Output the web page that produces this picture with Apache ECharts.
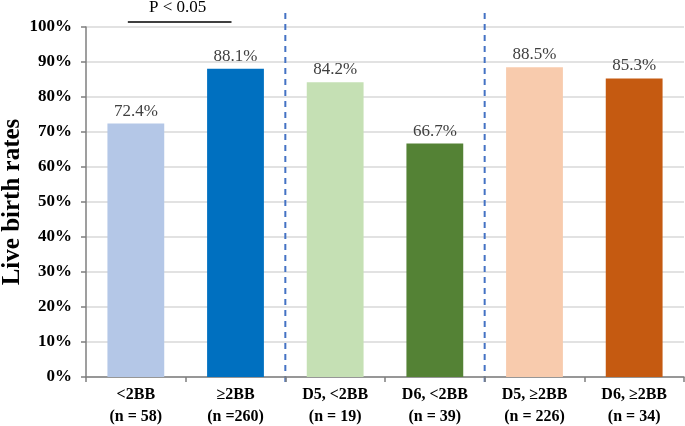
<!DOCTYPE html>
<html><head><meta charset="utf-8">
<script src="https://cdn.jsdelivr.net/npm/echarts@6/dist/echarts.min.js"></script>
<style>html,body{margin:0;padding:0;background:#fff}#c{width:685px;height:426px}</style>
</head><body><div id="c"></div>
<script>
const categories = ['<2BB\n(n = 58)', '≥2BB\n(n =260)', 'D5, <2BB\n(n = 19)', 'D6, <2BB\n(n = 39)', 'D5, ≥2BB\n(n = 226)', 'D6, ≥2BB\n(n = 34)'];
const values = [72.4, 88.1, 84.2, 66.7, 88.5, 85.3];
const barColors = ['#B4C7E7', '#0070C0', '#C5E0B4', '#548235', '#F8CBAD', '#C55A11'];
const yTicks = [0, 10, 20, 30, 40, 50, 60, 70, 80, 90, 100];
const separators = [1.5, 3.5];
const sigPair = [0, 1];
const sigText = 'P < 0.05';

const serif = '"Liberation Serif", "Times New Roman", serif';
const chart = echarts.init(document.getElementById('c'));
chart.setOption({
  animation: false,
  grid: { left: 86, right: 1, top: 27, bottom: 49, outerBoundsMode: 'none', containLabel: false },
  xAxis: {
    type: 'category', data: categories,
    axisLine: { lineStyle: { color: '#7f7f7f', width: 1.5 } },
    axisTick: { show: true, length: 5, lineStyle: { color: '#7f7f7f', width: 1.5 } },
    axisLabel: { fontFamily: serif, fontWeight: 'bold', fontSize: 16, color: '#000', lineHeight: 22, margin: 7 }
  },
  yAxis: {
    type: 'value', min: yTicks[0], max: yTicks[yTicks.length - 1], interval: 10,
    name: 'Live birth rates', nameLocation: 'middle', nameGap: 61, nameMoveOverlap: false,
    nameTextStyle: { fontFamily: serif, fontWeight: 'bold', fontSize: 25, color: '#000' },
    axisLine: { show: true, lineStyle: { color: '#7f7f7f', width: 1.5 } },
    axisTick: { show: true, length: 5, lineStyle: { color: '#7f7f7f', width: 1.5 } },
    splitLine: { lineStyle: { color: '#d9d9d9', width: 1.5 } },
    axisLabel: { fontFamily: serif, fontWeight: 'bold', fontSize: 17, color: '#000', formatter: v => v + '%', margin: 14 }
  },
  series: [{
    type: 'bar', barWidth: '57%',
    data: values.map((v, i) => ({ value: v, itemStyle: { color: barColors[i] } })),
    label: { show: true, position: 'top', distance: 4, fontFamily: serif, fontSize: 17, color: '#404040', formatter: p => p.value.toFixed(1) + '%' }
  }]
});

function addGraphics() {
  const els = [];
  separators.forEach(s => {
    const a = chart.convertToPixel({ xAxisIndex: 0 }, Math.floor(s));
    const b = chart.convertToPixel({ xAxisIndex: 0 }, Math.ceil(s));
    const x = (a + b) / 2;
    els.push({ type: 'line', shape: { x1: x, y1: 13, x2: x, y2: 386 }, style: { stroke: '#4472C4', lineWidth: 2, lineDash: [6, 5] } });
  });
  const c0 = chart.convertToPixel({ xAxisIndex: 0 }, sigPair[0]);
  const c1 = chart.convertToPixel({ xAxisIndex: 0 }, sigPair[1]);
  els.push({ type: 'line', shape: { x1: c0 - 8, y1: 22, x2: c1 - 4, y2: 22 }, style: { stroke: '#000', lineWidth: 1.5 } });
  els.push({ type: 'text', x: (c0 + c1) / 2 - 8, y: 8, style: { text: sigText, fontFamily: serif, fontSize: 17, fill: '#000', align: 'center', verticalAlign: 'middle' } });
  chart.setOption({ graphic: els });
}
addGraphics();
</script>
</body></html>
